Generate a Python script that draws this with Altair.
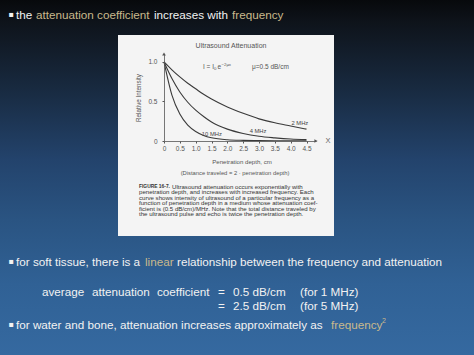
import altair as alt
import pandas as pd

# ---------------- data ----------------
depth = [0, 0.25, 0.5, 0.75, 1.0, 1.25, 1.5, 2.0, 2.5, 3.0, 3.5, 4.0, 4.5]
i_2mhz = [1.0, 0.90, 0.81, 0.73, 0.66, 0.59, 0.53, 0.43, 0.35, 0.28, 0.23, 0.19, 0.15]
i_4mhz = [1.0, 0.79, 0.62, 0.49, 0.39, 0.31, 0.24, 0.15, 0.095, 0.06, 0.04, 0.025, 0.017]
i_10mhz = [1.0, 0.58, 0.34, 0.20, 0.12, 0.07, 0.04, 0.015, 0.008, 0.005, 0.004, 0.003, 0.003]
freqs = ["2 MHz", "4 MHz", "10 MHz"]
label_depth = [4.29, 2.97, 1.51]
label_int = [0.23, 0.13, 0.085]
x_ticks = [0, 0.5, 1.0, 1.5, 2.0, 2.5, 3.0, 3.5, 4.0, 4.5]
y_ticks = [0, 0.5, 1.0]
x_max = 4.8
y_max = 1.1

caption_lines = [
    "penetration depth, and increases with increased frequency. Each",
    "curve shows intensity of ultrasound of a particular frequency as a",
    "function of penetration depth in a medium whose attenuation coef-",
    "ficient is (0.5 dB/cm)/MHz. Note that the total distance traveled by",
    "the ultrasound pulse and echo is twice the penetration depth.",
]

# ---------------- layout ----------------
W, H = 474, 355
PL, PT = 164, 54
PW, PH = 152, 87
FONT = "Liberation Sans"
WHITE = "#f2f2f2"
TAN = "#c9b98c"
GRAY = "#555555"

one = pd.DataFrame({"k": [0]})

rows = []
for f, vals in zip(freqs, [i_2mhz, i_4mhz, i_10mhz]):
    for d, v in zip(depth, vals):
        rows.append({"depth": d, "intensity": v, "freq": f})
df = pd.DataFrame(rows)

xscale = alt.Scale(domain=[0, x_max], nice=False, zero=False)
yscale = alt.Scale(domain=[0, y_max], nice=False, zero=False)
xaxis = alt.Axis(values=x_ticks, labelExpr="datum.value == 0 ? '0' : format(datum.value, '.1f')",
                 tickSize=2, labelFontSize=6.5, labelFont=FONT, labelColor=GRAY,
                 domainColor=GRAY, tickColor=GRAY, domainWidth=0.8, grid=False, title=None,
                 zindex=1, labelPadding=2, labelFlush=False, labelOverlap=False)
yaxis = alt.Axis(values=y_ticks, labelExpr="datum.value == 0 ? '0' : format(datum.value, '.1f')",
                 tickSize=2, labelFontSize=6.5, labelFont=FONT, labelColor=GRAY,
                 domainColor=GRAY, tickColor=GRAY, domainWidth=0.8, grid=False, title=None,
                 zindex=1, labelPadding=5, labelFlush=False, labelOverlap=False)


def px(v):
    return alt.value(v - PL)


def py(v):
    return alt.value(v - PT)


def txt(x, y, s, size, color, align="left", weight="normal", angle=0, font=FONT):
    kw = dict(align=align, baseline="middle", fontSize=size, color=color, font=font, fontWeight=weight)
    if angle:
        kw["angle"] = angle
    return alt.Chart(one).mark_text(**kw).encode(x=px(x), y=py(y), text=alt.value(s))


bg = alt.Chart(one).mark_rect(
    color=alt.LinearGradient(
        gradient="linear", x1=0, x2=0, y1=0, y2=1,
        stops=[
            alt.GradientStop(color="#07090c", offset=0),
            alt.GradientStop(color="#0e131a", offset=0.06),
            alt.GradientStop(color="#182a40", offset=0.25),
            alt.GradientStop(color="#23436c", offset=0.45),
            alt.GradientStop(color="#2a5482", offset=0.62),
            alt.GradientStop(color="#306195", offset=0.8),
            alt.GradientStop(color="#3569a0", offset=1),
        ],
    )
).encode(x=px(0), x2=px(W), y=py(0), y2=py(H))

box = alt.Chart(one).mark_rect(color="#f4f4f4").encode(x=px(118), x2=px(334), y=py(35), y2=py(236))

curves = alt.Chart(df).mark_line(color="#3a3a3a", strokeWidth=1.1, interpolate="monotone").encode(
    x=alt.X("depth:Q", scale=xscale, axis=xaxis),
    y=alt.Y("intensity:Q", scale=yscale, axis=yaxis),
    detail="freq:N",
)

arrows_df = pd.DataFrame({"depth": [x_max, 0], "intensity": [0, y_max], "shape": ["triangle-right", "triangle-up"]})
arrows = alt.Chart(arrows_df).mark_point(filled=True, size=14, color=GRAY, opacity=1).encode(
    x=alt.X("depth:Q", scale=xscale, axis=xaxis),
    y=alt.Y("intensity:Q", scale=yscale, axis=yaxis),
    shape=alt.Shape("shape:N", scale=None),
)

lab_df = pd.DataFrame({"depth": label_depth, "intensity": label_int, "freq": freqs})
labels = alt.Chart(lab_df).mark_text(fontSize=5.8, font=FONT, color="#444444").encode(
    x=alt.X("depth:Q", scale=xscale, axis=xaxis),
    y=alt.Y("intensity:Q", scale=yscale, axis=yaxis),
    text="freq:N",
)

layers = [bg, box, curves, arrows, labels]

# figure texts
CAP = 6.1
layers += [
    txt(231, 46, "Ultrasound Attenuation", 7, "#555555", align="center"),
    txt(139, 98, "Relative Intensity", 6.3, "#555555", align="center", angle=270),
    txt(203, 67, "I = I", 6.5, "#555555"),
    txt(214, 69, "0", 4.3, "#555555"),
    txt(217.5, 67, "e", 6.5, "#555555"),
    txt(221.5, 64.5, "\u22122\u03bcx", 4.3, "#555555"),
    txt(252, 67, "\u03bc=0.5 dB/cm", 6.5, "#555555"),
    txt(328, 141, "X", 7.5, "#666666", align="center"),
    txt(242, 162, "Penetration depth, cm", 6.1, "#555555", align="center"),
    txt(235, 173, "(Distance traveled = 2 \u00b7 penetration depth)", 5.8, "#555555", align="center"),
    txt(139, 186.7, "FIGURE 16-7.", 4.9, "#333333", weight="bold"),
    txt(172, 186.7, "Ultrasound attenuation occurs exponentially with", CAP, "#333333"),
]
cap_y = [192.3, 197.8, 203.3, 208.8, 214.3]
for yy, line in zip(cap_y, caption_lines):
    layers.append(txt(139, yy, line, CAP, "#333333"))

# slide texts
S = 11.7
layers += [
    txt(11, 15, "\u25aa", 8, WHITE, align="center", font="DejaVu Sans"),
    txt(16, 15, "the", S, WHITE),
    txt(36, 15, "attenuation coefficient", S, TAN),
    txt(154, 15, "increases with", S, WHITE),
    txt(232, 15, "frequency", S, TAN),

    txt(11, 262, "\u25aa", 8, WHITE, align="center", font="DejaVu Sans"),
    txt(16, 262, "for soft tissue, there is a", S, WHITE),
    txt(145, 262, "linear", S, TAN),
    txt(177, 262, "relationship between the frequency and attenuation", S, WHITE),

    txt(42, 291.5, "average", S, WHITE),
    txt(92, 291.5, "attenuation", S, WHITE),
    txt(157, 291.5, "coefficient", S, WHITE),
    txt(218, 291.5, "=", S, WHITE),
    txt(233, 291.5, "0.5 dB/cm", S, WHITE),
    txt(300, 291.5, "(for 1 MHz)", S, WHITE),
    txt(218, 306, "=", S, WHITE),
    txt(233, 306, "2.5 dB/cm", S, WHITE),
    txt(300, 306, "(for 5 MHz)", S, WHITE),

    txt(11, 325, "\u25aa", 8, WHITE, align="center", font="DejaVu Sans"),
    txt(16, 325, "for water and bone, attenuation increases approximately as", S, WHITE),
    txt(331, 325, "frequency", S, TAN),
    txt(382, 321, "2", 7, TAN),
]

chart = alt.layer(*layers).properties(
    width=PW,
    height=PH,
    padding={"left": PL, "top": PT, "right": W - PL - PW, "bottom": H - PT - PH},
    autosize=alt.AutoSizeParams(type="none"),
    background="#07090c",
).configure_view(stroke=None)

chart.save("out.html", embed_options={"renderer": "svg", "actions": False})
